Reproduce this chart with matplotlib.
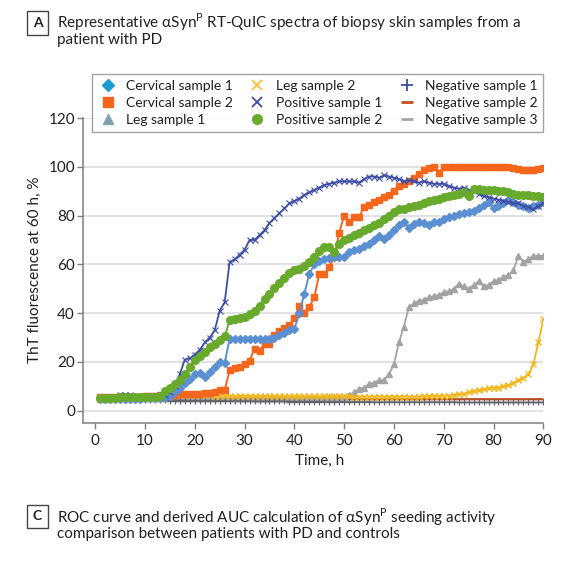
import matplotlib
matplotlib.use("Agg")
import matplotlib.pyplot as plt
from matplotlib.lines import Line2D
import numpy as np

plt.rcParams['font.family'] = ['Lato', 'DejaVu Sans']
plt.rcParams['mathtext.fontset'] = 'custom'
plt.rcParams['mathtext.rm'] = 'Lato'

hours = list(range(1, 91))

cervical1 = [5, 5, 5, 5, 5, 5, 5, 5, 5, 5.2,
             5.2, 5.3, 5.4, 5.6, 6, 7.5, 9.5, 11.5, 13, 15,
             15.5, 14, 16, 18, 20, 19.5, 29.5, 29.5, 29.5, 29.5,
             29.5, 29.5, 29.5, 29.5, 29.5, 30, 31, 32, 33, 33.5,
             40, 48, 56, 60, 61.5, 62, 62.5, 63, 63, 63,
             65, 66, 66.5, 67.5, 68.5, 70, 71.5, 70.5, 72, 74,
             76, 77.5, 75, 76.5, 77.5, 77, 76, 77.5, 77.5, 78.5,
             79.5, 80, 80.5, 81, 81.5, 82, 83, 84.5, 85.5, 83,
             84, 85, 86.5, 85.5, 84.5, 84, 83, 84, 84.5, 85.7]

cervical2 = [5.5, 5.5, 5.5, 5.6, 5.6, 5.7, 5.7, 5.8, 5.8, 5.9,
             6, 6.2, 6.5, 6.5, 6.5, 6.6, 6.7, 6.8, 6.8, 7,
             7, 7.2, 7.3, 7.5, 8.5, 8.5, 16.5, 17.5, 18, 19,
             20.5, 25.5, 24.5, 27.5, 27.5, 31, 32.5, 34, 35, 38,
             43, 40, 42.5, 46.5, 56, 56, 59, 63, 73, 80,
             77.5, 79.5, 79.5, 83.5, 84.5, 85.5, 86.5, 87.5, 88.5, 90,
             92, 93, 94, 95.5, 97, 98.5, 99.5, 100, 97.5, 100,
             100, 100, 100, 100, 100, 100, 100, 100, 100, 100,
             100, 100, 99.8, 99.5, 99, 98.5, 98.5, 98.5, 99, 99.5]

leg1 = [5.2, 5.2, 5.2, 5.2, 5.2, 5.2, 5.2, 5.2, 5.2, 5.2,
        5.2, 5.2, 5.2, 5.3, 5.3, 5.3, 5.3, 5.3, 5.3, 5.3,
        5.3, 5.3, 5.3, 5.3, 5.3, 5.3, 5.3, 5.3, 5.3, 5.3,
        5.3, 5.3, 5.3, 5.3, 5.3, 5.3, 5.3, 5.3, 5.3, 5.3,
        5.3, 5.3, 5.4, 5.4, 5.4, 5.5, 5.5, 5.5, 5.6, 5.8,
        6.5, 7.5, 9, 9.5, 11, 11.5, 12.5, 12.5, 15, 19,
        28, 34.5, 42.5, 44, 45, 45.5, 46.5, 47, 47.5, 48.5,
        49, 50, 52, 51, 50, 51.5, 53, 51, 51.5, 53,
        53.5, 55, 55.5, 57.5, 63.5, 61, 62, 63.5, 63.5, 63.5]

leg2 = [5.2, 5.2, 5.3, 5.3, 5.4, 5.4, 5.5, 5.5, 5.6, 5.6,
        5.7, 5.8, 6, 6.3, 6.5, 6.5, 6.5, 6.5, 6.4, 6.4,
        6.3, 6.3, 6.3, 6.2, 6.2, 6.2, 6.2, 6.1, 6.1, 6.1,
        6.1, 6.1, 6, 6, 6, 6, 6, 6, 6, 6,
        6, 6, 5.9, 5.9, 5.9, 5.9, 5.9, 5.9, 5.9, 5.9,
        5.9, 5.8, 5.8, 5.8, 5.8, 5.8, 5.8, 5.8, 5.8, 5.8,
        5.8, 5.8, 5.8, 5.8, 5.8, 5.9, 5.9, 6, 6, 6.1,
        6.2, 6.5, 6.8, 7, 7.5, 8, 8.3, 8.8, 9.2, 9.5,
        9.5, 10, 10.5, 11.5, 12.5, 13.5, 15, 19, 28, 37.5]

positive1 = [5, 5, 5.2, 5.3, 6.5, 6.3, 6.5, 5.5, 5.5, 5.6,
             5.7, 5.8, 6, 6.3, 7.5, 10, 15, 21, 21.5, 23,
             25, 28, 30, 33, 41, 44.5, 61, 62, 64, 66,
             70, 70, 72, 74, 77, 79, 81, 83, 85, 86,
             87, 88.5, 89.5, 90.5, 91.5, 92.5, 93, 93.5, 94, 94,
             94, 94, 93.5, 95, 96, 96, 95.5, 96.5, 96, 95.5,
             95, 94, 94.5, 94, 93.5, 94, 93.5, 93, 93, 93,
             92, 91.5, 91, 91.5, 90.5, 90, 89, 88, 87.5, 87,
             86.5, 86, 85.5, 85, 85, 84, 83.5, 82.5, 84, 85]

positive2 = [5.3, 5.3, 5.4, 5.4, 5.5, 5.5, 5.5, 5.6, 5.6, 5.7,
             5.7, 5.8, 6.2, 8, 9.5, 11, 12.7, 15, 18, 21,
             22.5, 24, 26, 27.5, 29, 30.5, 37, 37.5, 38, 38.5,
             39.5, 41, 43, 46, 48, 50.5, 52.5, 54.5, 56.5, 57.5,
             58, 59.5, 61, 63, 65.5, 67, 67, 65, 68.5, 70,
             71, 72, 73, 74, 75, 76, 77, 78.5, 80, 81.5,
             82.5, 82.5, 83.5, 84, 84.5, 85, 86, 86.5, 87, 87.5,
             88, 88.5, 89, 89.5, 88, 91, 91, 90.5, 90.5, 90.5,
             90, 90, 89.5, 89, 88.5, 88.5, 88.5, 88, 88, 87.5]

negative1 = [4.7, 4.7, 4.6, 4.6, 4.6, 4.5, 4.5, 4.5, 4.4, 4.4,
             4.4, 4.3, 4.3, 4.3, 4.2, 4.2, 4.2, 4.2, 4.1, 4.1,
             4.1, 4, 4, 4, 4, 4, 3.9, 3.9, 3.9, 3.9,
             3.9, 3.8, 3.8, 3.8, 3.8, 3.8, 3.8, 3.8, 3.7, 3.7,
             3.7, 3.7, 3.7, 3.7, 3.7, 3.6, 3.6, 3.6, 3.6, 3.6,
             3.6, 3.6, 3.6, 3.6, 3.6, 3.5, 3.5, 3.5, 3.5, 3.5,
             3.5, 3.5, 3.5, 3.5, 3.5, 3.5, 3.5, 3.5, 3.5, 3.5,
             3.5, 3.5, 3.4, 3.4, 3.4, 3.4, 3.4, 3.4, 3.4, 3.4,
             3.4, 3.4, 3.4, 3.4, 3.4, 3.4, 3.4, 3.4, 3.4, 3.4]

negative2 = [5.0] * 90
negative3 = [4.9] * 90

labels = ["Cervical sample 1", "Cervical sample 2", "Leg sample 1",
          "Leg sample 2", "Positive sample 1", "Positive sample 2",
          "Negative sample 1", "Negative sample 2", "Negative sample 3"]

W, H = 577, 566
fig = plt.figure(figsize=(W / 100, H / 100), dpi=100)
ax = fig.add_axes([83.3 / W, 1 - 422.7 / H, 460 / W, (422.7 - 118) / H])

txt = '#231f20'
axc = '#7f7f7f'

# plotted lines (zorder roughly as they overlap in the figure)
ax.plot(hours, negative3, color='#a6a6a6', marker='_', ms=4, lw=1.1, zorder=2)
ax.plot(hours, negative2, color='#c2501c', marker='_', ms=4, lw=1.1, zorder=2)
ax.plot(hours, leg1, color='#a3a3a3', marker='^', ms=5, lw=1.3, zorder=3)
ax.plot(hours, leg2, color='#f4b719', marker='x', ms=4.5, mew=1, lw=1.3, zorder=3)
ax.plot(hours, negative1, color='#62626a', marker='+', ms=5, mew=0.9, lw=1.2, zorder=4)
ax.plot(hours, cervical2, color='#f5661d', marker='s', ms=5, lw=1.4, zorder=5)
ax.plot(hours, cervical1, color='#5a8fd2', marker='D', ms=3.8, lw=1.4, zorder=6)
ax.plot(hours, positive1, color='#3d4ca5', marker='x', ms=4.5, mew=0.8, lw=1.3, zorder=6)
ax.plot(hours, positive2, color='#68aa2c', marker='o', ms=5.5, lw=1.4, zorder=7)

ax.set_xlim(-2.4, 90)
ax.set_ylim(-4.9, 120)
ax.set_xticks(range(0, 91, 10))
ax.set_yticks(range(0, 121, 20))
ax.yaxis.grid(True, color='#dcdcdc', lw=1.2)
ax.set_axisbelow(True)
for s in ['top', 'right']:
    ax.spines[s].set_visible(False)
for s in ['left', 'bottom']:
    ax.spines[s].set_color(axc)
    ax.spines[s].set_linewidth(1.1)
ax.tick_params(colors=axc, labelcolor=txt, labelsize=11, length=4, width=1)
ax.tick_params(axis='x', pad=4)
ax.tick_params(axis='y', pad=2)

fig.text(35 / W, 1 - 270 / H, 'ThT fluorescence at 60 h, %', rotation=90,
         ha='center', va='center', fontsize=11, color=txt)
fig.text(320 / W, 1 - 461 / H, 'Time, h', ha='center', va='center',
         fontsize=11, color=txt)

# legend
handles = [
    Line2D([], [], ls='none', marker='D', ms=6, color='#1f9ad3'),
    Line2D([], [], ls='none', marker='s', ms=7, color='#f5661d'),
    Line2D([], [], ls='none', marker='^', ms=7, color='#7fa3ad'),
    Line2D([], [], ls='none', marker='x', ms=7, mew=1.3, color='#f7c12e'),
    Line2D([], [], ls='none', marker='x', ms=7, mew=1.3, color='#3d4ca5'),
    Line2D([], [], ls='none', marker='o', ms=7, color='#68aa2c'),
    Line2D([], [], ls='none', marker='+', ms=9, mew=1.3, color='#3d4ca5'),
    Line2D([], [], ls='none', marker='_', ms=9, mew=2, color='#c2501c'),
    Line2D([], [], ls='none', marker='_', ms=9, mew=2, color='#a6a6a6'),
]
leg = fig.legend(handles, labels, ncol=3, loc='lower left',
                 bbox_to_anchor=(91.7 / W, 1 - 131.7 / H, (543 - 91.7) / W, 66.7 / H),
                 mode='expand', borderaxespad=0, fontsize=10, frameon=True,
                 fancybox=False, handlelength=1.5, handletextpad=0.55,
                 labelspacing=0.38, borderpad=0.4, columnspacing=1.0)
leg.get_frame().set_edgecolor('#8c8c8c')
leg.get_frame().set_linewidth(1.0)
for t in leg.get_texts():
    t.set_color(txt)

# panel titles
box = dict(boxstyle='square,pad=0.42', fc='white', ec='#444444', lw=1)
fig.text(37.5 / W, 1 - 23 / H, 'A', ha='center', va='center', fontsize=10,
         fontweight='bold', color=txt, bbox=box)
fig.text(57 / W, 1 - 22 / H,
         'Representative \u03b1Syn$^{\\mathrm{P}}$ RT-QuIC spectra of biopsy skin samples from a',
         ha='left', va='center', fontsize=11, color=txt)
fig.text(57 / W, 1 - 40 / H, 'patient with PD', ha='left', va='center',
         fontsize=11, color=txt)

fig.text(37.5 / W, 1 - 516.5 / H, 'C', ha='center', va='center', fontsize=10,
         fontweight='bold', color=txt, bbox=box)
fig.text(57 / W, 1 - 517 / H,
         'ROC curve and derived AUC calculation of \u03b1Syn$^{\\mathrm{P}}$ seeding activity',
         ha='left', va='center', fontsize=11, color=txt)
fig.text(57 / W, 1 - 534 / H, 'comparison between patients with PD and controls',
         ha='left', va='center', fontsize=11, color=txt)

fig.savefig('out.png', dpi=100)
